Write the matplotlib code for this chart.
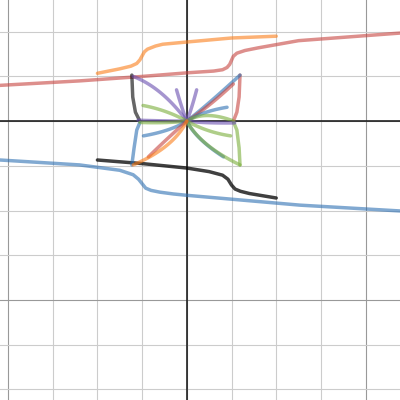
import numpy as np
import matplotlib
matplotlib.use("Agg")
import matplotlib.pyplot as plt

RED, BLUE, GREEN = "#c74440", "#2d70b3", "#7aae3a"
PURPLE, ORANGE, BLACK = "#6a4fb0", "#fa7e19", "#000000"

# long curves (x, y) in graph units
red_x = [-4.18, -2.4, -1.0, 0.0, 0.6, 0.8, 0.9, 0.96, 1.0, 1.04, 1.12, 1.3, 1.6, 2.5, 4.77]
red_y = [0.80, 0.90, 1.00, 1.08, 1.12, 1.15, 1.20, 1.27, 1.36, 1.45, 1.52, 1.58, 1.64, 1.80, 1.97]
orange_x = [-2.0, -1.5, -1.25, -1.12, -1.05, -1.0, -0.95, -0.88, -0.7, -0.54, 0.0, 1.0, 2.0]
orange_y = [1.07, 1.17, 1.23, 1.29, 1.37, 1.46, 1.55, 1.61, 1.68, 1.72, 1.77, 1.86, 1.90]
blue_x = [-4.18, -2.4, -1.5, -1.2, -1.08, -1.0, -0.92, -0.8, -0.6, -0.3, 0.0, 2.53, 4.77]
blue_y = [-0.87, -0.98, -1.10, -1.20, -1.30, -1.40, -1.50, -1.55, -1.59, -1.63, -1.66, -1.88, -2.01]
black_x = [-2.0, -1.0, 0.0, 0.5, 0.8, 0.92, 1.0, 1.08, 1.2, 1.4, 2.0]
black_y = [-0.87, -0.95, -1.05, -1.13, -1.21, -1.30, -1.43, -1.52, -1.57, -1.62, -1.72]

# short edges of the butterfly
edges = [
    (BLACK, [-1.23, -1.21, -1.15, -1.05], [1.03, 0.54, 0.2, 0.0]),
    (BLUE, [-1.05, -1.12, -1.18, -1.23], [-0.03, -0.2, -0.6, -0.98]),
    (RED, [1.19, 1.17, 1.12, 1.05], [1.03, 0.54, 0.2, 0.02]),
    (GREEN, [1.05, 1.12, 1.17, 1.19], [-0.03, -0.2, -0.6, -0.98]),
]

# spokes from the origin: colour, mid point, end point
spokes = [
    (PURPLE, (-0.55, 0.75), (-1.2, 1.0)),
    (BLUE, (0.45, 0.35), (1.19, 1.03)),
    (RED, (0.45, 0.28), (1.04, 0.83)),
    (BLUE, (0.35, 0.22), (0.9, 0.31)),
    (PURPLE, (-0.1, 0.25), (-0.23, 0.70)),
    (PURPLE, (0.1, 0.25), (0.22, 0.70)),
    (GREEN, (-0.45, 0.25), (-0.98, 0.35)),
    (PURPLE, (-0.4, 0.0), (-1.09, 0.02)),
    (GREEN, (0.4, 0.25), (1.05, 0.0)),
    (GREEN, (-0.45, -0.05), (-1.05, -0.03)),
    (PURPLE, (0.4, -0.05), (1.07, -0.04)),
    (BLUE, (-0.35, -0.22), (-0.97, -0.33)),
    (GREEN, (0.45, -0.25), (0.98, -0.33)),
    (BLUE, (0.2, -0.4), (0.82, -0.80)),
    (GREEN, (0.3, -0.55), (1.19, -0.98)),
    (RED, (-0.4, -0.35), (-0.86, -0.80)),
    (ORANGE, (-0.3, -0.6), (-1.2, -0.98)),
]

fig = plt.figure(figsize=(4, 4), dpi=100)
ax = fig.add_axes([0, 0, 1, 1])
ax.set_xlim(-4.18, 4.77)
ax.set_ylim(-6.24, 2.71)
for v in range(-4, 5):
    ax.axvline(v, color="#cccccc" if v % 4 else "#999999", lw=0.8, zorder=0)
for v in range(-6, 3):
    ax.axhline(v, color="#cccccc" if v % 4 else "#999999", lw=0.8, zorder=0)
ax.axhline(0, color="#222222", lw=1.2, zorder=1)
ax.axvline(0, color="#222222", lw=1.2, zorder=1)

kw = dict(lw=2.5, alpha=0.6, solid_capstyle="round", solid_joinstyle="round", zorder=3)
ax.plot(red_x, red_y, color=RED, **kw)
ax.plot(orange_x, orange_y, color=ORANGE, **kw)
ax.plot(blue_x, blue_y, color=BLUE, **kw)
ax.plot(black_x, black_y, color=BLACK, alpha=0.75, lw=2.5, solid_capstyle="round", zorder=3)
for c, xs, ys in edges:
    ax.plot(xs, ys, color=c, **kw)
t = np.linspace(0, 1, 30)
for c, (mx, my), (ex, ey) in spokes:
    bx = 2 * (1 - t) * t * mx + t ** 2 * ex
    by = 2 * (1 - t) * t * my + t ** 2 * ey
    ax.plot(bx, by, color=c, **kw)
ax.axis("off")
fig.savefig("out.png")
